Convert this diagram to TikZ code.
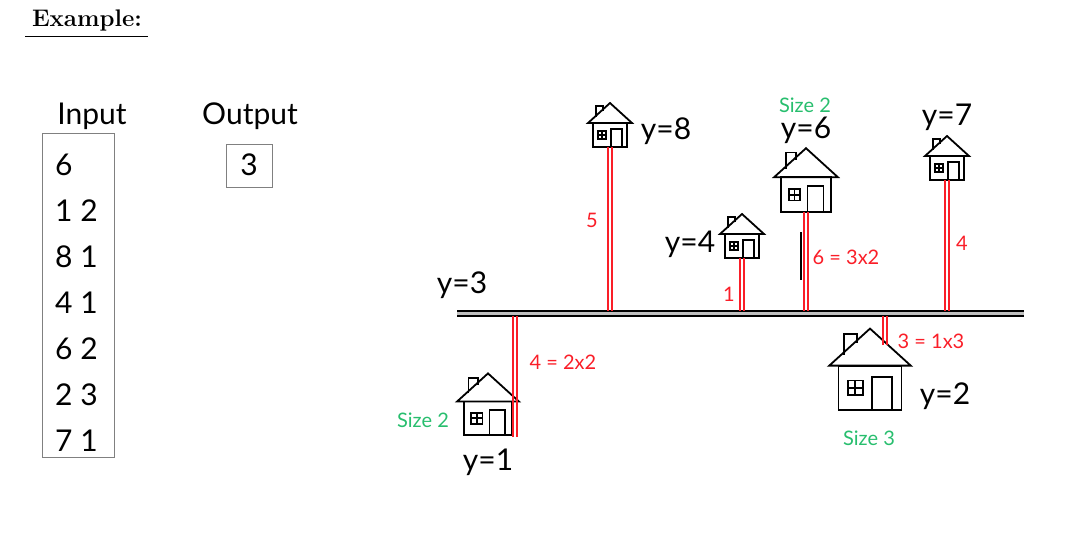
\documentclass[tikz,border=0pt]{standalone}
\usepackage{fontspec}
\newfontfamily\myfont{Lato}
\definecolor{rd}{RGB}{250,30,40}
\definecolor{gr}{RGB}{40,190,110}
\begin{document}
\begin{tikzpicture}[x=1pt,y=-1pt,
  lbl/.style={font=\myfont\fontsize{30}{32}\selectfont,inner sep=0pt},
  rl/.style={font=\myfont\fontsize{20}{22}\selectfont,text=rd,inner sep=0pt},
  gl/.style={font=\myfont\fontsize{20}{22}\selectfont,text=gr,inner sep=0pt},
  pipe/.style={draw=rd,line width=1.6pt},
  house/.pic={
    \begin{scope}[line width=1.8pt,line join=miter]
    \draw (-22,-24) -- (0,-44) -- (22,-24) -- cycle;
    \draw (-17,-24) rectangle (17,0);
    \draw (-14,-30) -- (-14,-41) -- (-7,-41) -- (-7,-36);
    \draw (-12,-16) rectangle (-4,-8) (-8,-16) -- (-8,-8) (-12,-12) -- (-4,-12);
    \draw (1,-18) rectangle (12,0);
    \end{scope}}]
\useasboundingbox (0,0) rectangle (1078,555);
% title
\node[font=\bfseries\fontsize{24}{26}\selectfont,inner sep=0pt] (ex) at (87,20) {Example:};
\draw[line width=1pt] (25,36) -- (148,36);
% input/output
\node[lbl] (in) at (92,116) {Input};
\node[lbl] (out) at (250,116) {Output};
\draw[gray,line width=1pt] (42,133) rectangle (114,457);
\foreach \t [count=\i from 0] in {6,1 2,8 1,4 1,6 2,2 3,7 1}
  \node[lbl,anchor=west] at (55,165+46*\i) {\t};
\draw[gray,line width=1pt] (226,144) rectangle (272,187);
\node[lbl] (o3) at (249,165) {3};
% road
\fill[gray!50] (457,311) rectangle (1024,316);
\draw[line width=1.6pt] (457,311) -- (1024,311) (457,316) -- (1024,316);
% houses
\pic[scale=1.0] (h8) at (610,147) {house};
\pic[scale=1.45] (h6) at (806,212) {house};
\pic[scale=1.0] (h7) at (947,180) {house};
\pic[scale=1.0] (h4) at (742,258) {house};
\pic[scale=1.4] (h1) at (488,435) {house};
\pic[scale=1.85] (h2) at (870,410) {house};
% pipes
\foreach \x/\a/\b in {610/147/311, 806/212/311, 947/180/311, 742/258/311, 515/316/437, 885/316/345}{
  \draw[pipe] (\x-2,\a) -- (\x-2,\b) (\x+2,\a) -- (\x+2,\b);}
\draw[line width=1.6pt] (801,232) -- (801,280);
% labels
\node[lbl] at (666,131) {y=8};
\node[lbl] at (806,130) {y=6};
\node[lbl] at (947,117) {y=7};
\node[lbl] at (690,244) {y=4};
\node[lbl] at (462,285) {y=3};
\node[lbl] at (488,462) {y=1};
\node[lbl] at (945,396) {y=2};
\node[rl] at (592,220) {5};
\node[rl] at (729,294) {1};
\node[rl] at (846,257) {6 = 3x2};
\node[rl] at (962,243) {4};
\node[rl] at (563,362) {4 = 2x2};
\node[rl] at (931,341) {3 = 1x3};
\node[gl] at (805,105) {Size 2};
\node[gl] at (423,420) {Size 2};
\node[gl] at (869,438) {Size 3};
\end{tikzpicture}
\end{document}
